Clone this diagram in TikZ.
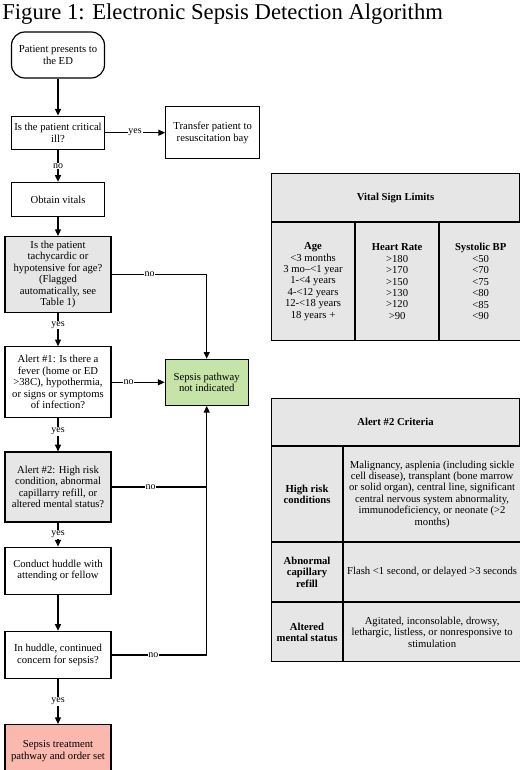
\documentclass[tikz,border=0pt]{standalone}
\usepackage{fontspec}
\setmainfont{Liberation Serif}
\usetikzlibrary{arrows.meta,positioning}
\definecolor{boxgray}{HTML}{E6E6E6}
\definecolor{okgreen}{HTML}{C6E3A8}
\definecolor{sepred}{HTML}{FBB8AE}

\begin{document}
\begin{tikzpicture}[font=\fontsize{8}{8.6}\selectfont,>={Triangle[length=5pt,width=4.5pt]},
 box/.style={draw,line width=0.9pt,align=center,inner sep=2pt},
 small/.style={box,minimum width=69.75pt}, wide/.style={box,minimum width=79.5pt},
 cell/.style={draw,line width=0.8pt,fill=boxgray,align=center,inner sep=2pt},
 flow/.style={->,line width=0.9pt}, mergeline/.style={line width=0.9pt},
 lbl/.style={fill=white,inner sep=0.6pt,font=\fontsize{7.5}{8}\selectfont}]
\useasboundingbox (0,0) rectangle (390pt,-577.5pt);
\node[anchor=base west,inner sep=0,font=\fontsize{17}{20}\selectfont] (title) at (1.5pt,-15pt)
 {Figure 1: Electronic Sepsis Detection Algorithm};

% main flow
\node[small,rounded corners=10pt,minimum height=34.5pt] (start) at (43.5pt,-41.25pt) {Patient presents to\\the ED};
\node[small,minimum height=24.75pt,below=27.75pt of start] (critical) {Is the patient critical\\ill?};
\node[box,minimum width=70.5pt,minimum height=39pt,right=45pt of critical] (transfer) {Transfer patient to\\resuscitation bay};
\node[small,minimum height=25.5pt,below=24pt of critical] (vitals) {Obtain vitals};
\node[wide,fill=boxgray,minimum height=57pt,below=14.25pt of vitals] (tachy)
 {Is the patient\\tachycardic or\\hypotensive for age?\\(Flagged\\automatically, see\\Table 1)};
\node[wide,minimum height=53.25pt,below=24.75pt of tachy] (alert1)
 {Alert \#1: Is there a\\fever (home or ED\\>38C), hypothermia,\\or signs or symptoms\\of infection?};
\node[wide,fill=boxgray,minimum height=52.5pt,below=24.75pt of alert1] (alert2)
 {Alert \#2: High risk\\condition, abnormal\\capillarry refill, or\\altered mental status?};
\node[wide,minimum height=35.25pt,below=18pt of alert2] (huddle) {Conduct huddle with\\attending or fellow};
\node[wide,minimum height=35.25pt,below=27pt of huddle] (concern) {In huddle, continued\\concern for sepsis?};
\node[wide,fill=sepred,minimum height=39.75pt,below=33.75pt of concern] (treat) {Sepsis treatment\\pathway and order set};
\node[box,fill=okgreen,minimum width=62.25pt,minimum height=34.5pt,right=39.75pt of alert1] (notind) {Sepsis pathway\\not indicated};

\draw[flow] (start) -- (critical);
\draw[flow] (critical) -- node[lbl] {yes} (transfer);
\draw[flow] (critical) -- node[lbl] {no} (vitals);
\draw[flow] (vitals) -- (tachy);
\draw[flow] (tachy) -- node[lbl,pos=0.35] {yes} (alert1);
\draw[flow] (alert1) -- node[lbl,pos=0.4] {yes} (alert2);
\draw[flow] (alert2) -- node[lbl] {yes} (huddle);
\draw[flow] (huddle) -- (concern);
\draw[flow] (concern) -- node[lbl] {yes} (treat);
\draw[flow] (tachy) -| node[lbl,pos=0.2] {no} (notind);
\draw[flow] (alert1) -- node[lbl,pos=0.32] {no} (notind);
\coordinate (merge) at (notind.south |- alert2.east);
\draw[mergeline] (alert2) -- node[lbl,pos=0.41] {no} (merge);
\draw[flow] (concern) -| node[lbl,pos=0.22] {no} (notind);

% vital sign table
\node[cell,anchor=north west,minimum width=186pt,minimum height=36pt] (vhead) at (203.25pt,-129.75pt) {\textbf{Vital Sign Limits}};
\node[cell,below right=0pt and 0pt of vhead.south west,minimum width=62.25pt,minimum height=88.5pt] (vage)
 {\textbf{Age}\\<3 months\\3 mo--<1 year\\1-<4 years\\4-<12 years\\12-<18 years\\18 years +};
\node[cell,right=0pt of vage,minimum width=62.25pt,minimum height=88.5pt] (vhr)
 {\textbf{Heart Rate}\\>180\\>170\\>150\\>130\\>120\\>90};
\node[cell,right=0pt of vhr,minimum width=61.5pt,minimum height=88.5pt] (vbp)
 {\textbf{Systolic BP}\\<50\\<70\\<75\\<80\\<85\\<90};

% alert 2 table
\node[cell,anchor=north west,minimum width=186pt,minimum height=35.25pt] (ahead) at (203.25pt,-298.5pt) {\textbf{Alert \#2 Criteria}};
\node[cell,below right=0pt and 0pt of ahead.south west,minimum width=53.25pt,minimum height=71.25pt] (arisk)
 {\textbf{High risk}\\\textbf{conditions}};
\node[cell,right=0pt of arisk,minimum width=132.75pt,minimum height=71.25pt] (arisktxt)
 {Malignancy, asplenia (including sickle\\cell disease), transplant (bone marrow\\or solid organ), central line, significant\\central nervous system abnormality,\\immunodeficiency, or neonate (>2\\months)};
\node[cell,below=0pt of arisk,minimum width=53.25pt,minimum height=44.25pt] (acap)
 {\textbf{Abnormal}\\\textbf{capillary}\\\textbf{refill}};
\node[cell,right=0pt of acap,minimum width=132.75pt,minimum height=44.25pt] (acaptxt)
 {Flash <1 second, or delayed >3 seconds};
\node[cell,below=0pt of acap,minimum width=53.25pt,minimum height=44.25pt] (amental)
 {\textbf{Altered}\\\textbf{mental status}};
\node[cell,right=0pt of amental,minimum width=132.75pt,minimum height=44.25pt] (amentaltxt)
 {Agitated, inconsolable, drowsy,\\lethargic, listless, or nonresponsive to\\stimulation};
\end{tikzpicture}
\end{document}
